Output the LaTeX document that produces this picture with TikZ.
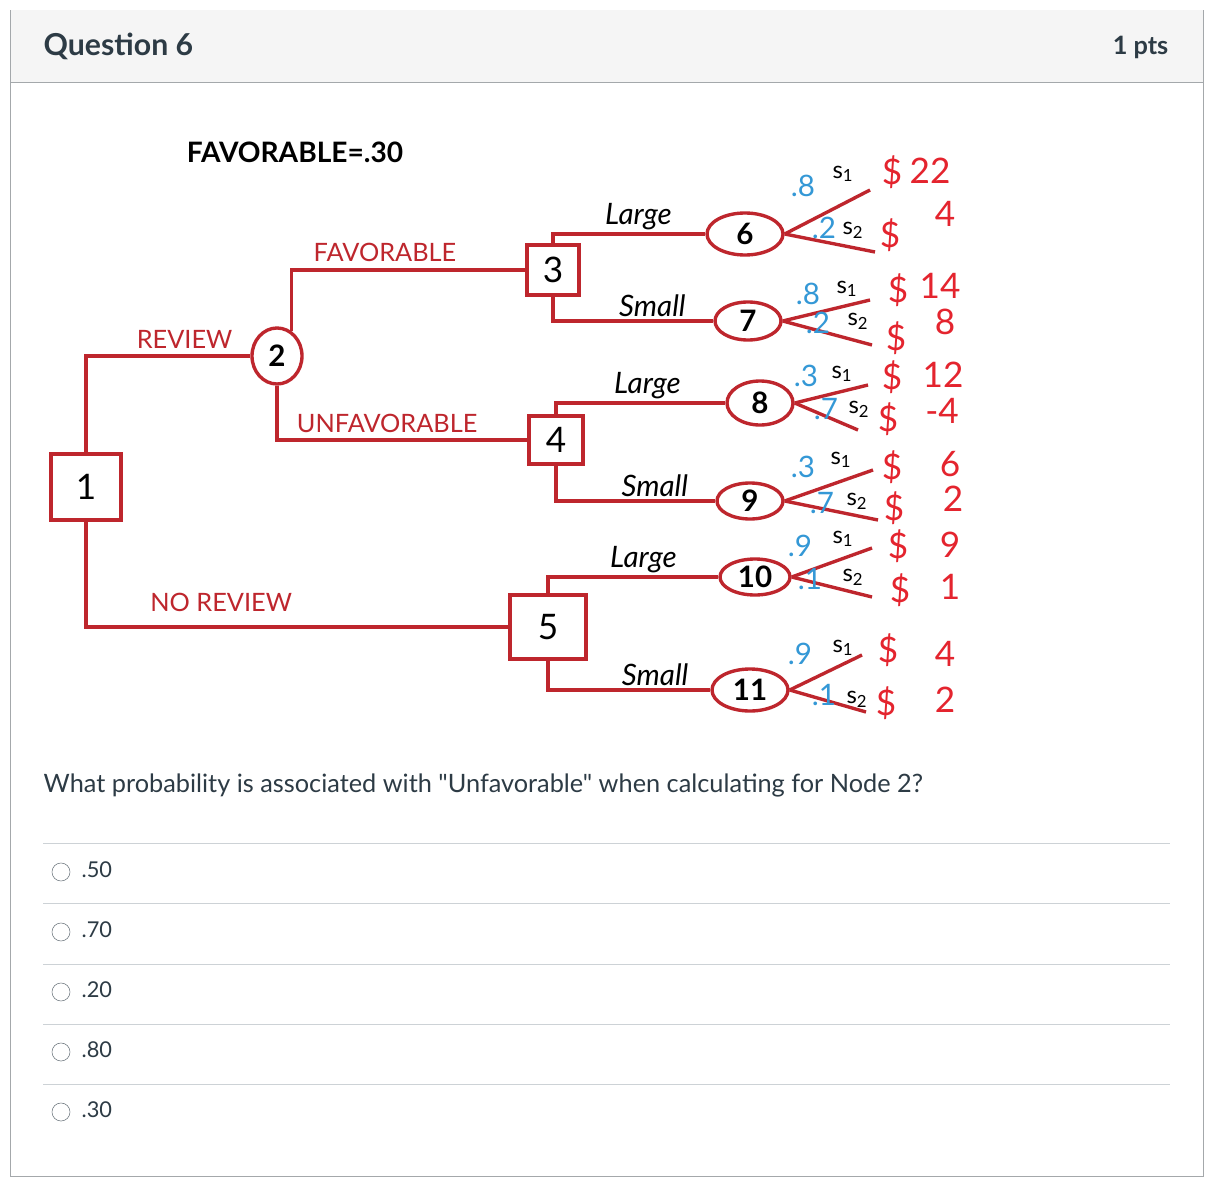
\documentclass[tikz,border=0pt]{standalone}
\usepackage{fontspec}
\setmainfont{Lato}
\newfontfamily\textoreto{Lato}
\usetikzlibrary{positioning, shapes.geometric}
\usepackage{xcolor}
\definecolor{ramo}{RGB}{190,38,45}
\definecolor{payoff}{RGB}{228,36,46}
\definecolor{prob}{RGB}{52,152,214}
\definecolor{texto}{RGB}{45,59,69}
\definecolor{linha}{RGB}{205,210,214}
\definecolor{cabec}{RGB}{245,245,245}

\begin{document}
\begin{tikzpicture}[
    x=0.025cm,
    y=-0.025cm,
    every node/.style={font=\fontsize{15.5}{18}\selectfont, inner sep=1pt},
    ramo/.style={
        draw=ramo,
        line width=2.4pt
    },
    decisao/.style={
        draw=ramo,
        line width=2.4pt,
        fill=white,
        font=\fontsize{25}{27}\selectfont
    },
    acaso/.style={
        ellipse,
        draw=ramo,
        line width=2.4pt,
        fill=white,
        inner sep=0pt,
        font=\fontsize{21}{23}\selectfont\bfseries
    },
    rotulo/.style={
        text=ramo,
        font=\fontsize{18}{20}\selectfont
    },
    tamanho/.style={
        font=\fontsize{21}{23}\selectfont\itshape
    },
    prob/.style={
        text=prob,
        font=\fontsize{21}{23}\selectfont
    },
    estado/.style={
        font=\fontsize{17}{19}\selectfont
    },
    valor/.style={
        text=payoff,
        font=\fontsize{25}{27}\selectfont
    }
]

\useasboundingbox (0,0) rectangle (1215,1188);

% ============================================================
% CABEÇALHO
% ============================================================

\draw[linha!80!black, fill=white] (10,10) rectangle (1203,1176);
\fill[cabec] (10.5,10.5) rectangle (1202.5,82);
\draw[linha!80!black] (10,82) -- (1203,82);

\node[
    anchor=west,
    text=texto,
    font=\fontsize{21.5}{25}\selectfont\bfseries
] (titulo) at (42,46)
{Question 6};

\node[
    anchor=east,
    text=texto,
    font=\fontsize{18}{21}\selectfont\bfseries
] (pontos) at (1170,47)
{1 pts};

% ============================================================
% ÁRVORE DE DECISÃO
% ============================================================

\node[
    font=\fontsize{20}{22}\selectfont\bfseries
] (prior) at (295,152)
{FAVORABLE=.30};

% Nós de decisão
\node[decisao, minimum width=1.75cm, minimum height=1.65cm] (n1) at (86,487) {1};
\node[decisao, minimum width=1.3cm, minimum height=1.25cm] (n3) at (553,270) {3};
\node[decisao, minimum width=1.35cm, minimum height=1.2cm] (n4) at (556,440) {4};
\node[decisao, minimum width=1.9cm, minimum height=1.6cm] (n5) at (548,627) {5};

% Nós de acaso
\node[acaso, minimum width=1.25cm, minimum height=1.4cm] (n2) at (277,356) {2};
\node[acaso, minimum width=1.9cm, minimum height=1.05cm] (n6) at (745,234) {6};
\node[acaso, minimum width=1.65cm, minimum height=0.95cm] (n7) at (748,321) {7};
\node[acaso, minimum width=1.65cm, minimum height=1.1cm] (n8) at (760,403) {8};
\node[acaso, minimum width=1.65cm, minimum height=0.9cm] (n9) at (750,501) {9};
\node[acaso, minimum width=1.75cm, minimum height=0.9cm] (n10) at (755,577) {10};
\node[acaso, minimum width=1.9cm, minimum height=1.05cm] (n11) at (750,690) {11};

% Ramos principais
\draw[ramo] (n1.north) |- node[rotulo, pos=0.80, above=3pt] {REVIEW} (n2.west);
\draw[ramo] (n1.south) |- node[rotulo, pos=0.66, above=9pt] {NO REVIEW} (n5.west);
\draw[ramo] (n2.60) |- node[rotulo, pos=0.70, above=4pt] {FAVORABLE} (n3.west);
\draw[ramo] (n2.south) |- node[rotulo, pos=0.72, above=3pt] {UNFAVORABLE} (n4.west);

% Tamanho da instalação
\draw[ramo] (n3.north) |- node[tamanho, pos=0.78, above=1pt] {Large} (n6.west);
\draw[ramo] (n3.south) |- node[tamanho, pos=0.81, above=1pt] {Small} (n7.west);
\draw[ramo] (n4.north) |- node[tamanho, pos=0.77, above=1pt] {Large} (n8.west);
\draw[ramo] (n4.south) |- node[tamanho, pos=0.81, above=1pt] {Small} (n9.west);
\draw[ramo] (n5.north) |- node[tamanho, pos=0.78, above=1pt] {Large} (n10.west);
\draw[ramo] (n5.south) |- node[tamanho, pos=0.83, above=1pt] {Small} (n11.west);

% Estados da natureza
\coordinate (e6a) at (870,190);
\coordinate (e6b) at (875,252);
\coordinate (e7a) at (870,300);
\coordinate (e7b) at (872,345);
\coordinate (e8a) at (868,385);
\coordinate (e8b) at (858,430);
\coordinate (e9a) at (873,470);
\coordinate (e9b) at (878,520);
\coordinate (e10a) at (872,548);
\coordinate (e10b) at (872,597);
\coordinate (e11a) at (862,655);
\coordinate (e11b) at (866,712);

\draw[ramo] (n6.east) -- (e6a);
\draw[ramo] (n6.east) -- (e6b);
\draw[ramo] (n7.east) -- (e7a);
\draw[ramo] (n7.east) -- (e7b);
\draw[ramo] (n8.east) -- (e8a);
\draw[ramo] (n8.east) -- (e8b);
\draw[ramo] (n9.east) -- (e9a);
\draw[ramo] (n9.east) -- (e9b);
\draw[ramo] (n10.east) -- (e10a);
\draw[ramo] (n10.east) -- (e10b);
\draw[ramo] (n11.east) -- (e11a);
\draw[ramo] (n11.east) -- (e11b);

% Probabilidades
\node[prob] (p6a) at (803,186) {.8};
\node[prob] (p6b) at (824,228) {.2};
\node[prob] (p7a) at (808,294) {.8};
\node[prob] (p7b) at (818,323) {.2};
\node[prob] (p8a) at (806,376) {.3};
\node[prob] (p8b) at (826,409) {.7};
\node[prob] (p9a) at (803,467) {.3};
\node[prob] (p9b) at (822,503) {.7};
\node[prob] (p10a) at (800,546) {.9};
\node[prob] (p10b) at (810,579) {.1};
\node[prob] (p11a) at (800,654) {.9};
\node[prob] (p11b) at (824,695) {.1};

\node[estado] (s6a) at (843,174) {s\textsubscript{1}};
\node[estado] (s6b) at (853,230) {s\textsubscript{2}};
\node[estado] (s7a) at (847,289) {s\textsubscript{1}};
\node[estado] (s7b) at (858,321) {s\textsubscript{2}};
\node[estado] (s8a) at (842,374) {s\textsubscript{1}};
\node[estado] (s8b) at (859,409) {s\textsubscript{2}};
\node[estado] (s9a) at (841,460) {s\textsubscript{1}};
\node[estado] (s9b) at (857,501) {s\textsubscript{2}};
\node[estado] (s10a) at (843,539) {s\textsubscript{1}};
\node[estado] (s10b) at (853,577) {s\textsubscript{2}};
\node[estado] (s11a) at (843,648) {s\textsubscript{1}};
\node[estado] (s11b) at (857,699) {s\textsubscript{2}};

% Resultados
\node[valor] (d6a) at (892,172) {\$};
\node[valor] (v6a) at (930,171) {22};
\node[valor] (d6b) at (890,235) {\$};
\node[valor] (v6b) at (945,214) {4};
\node[valor] (d7a) at (898,290) {\$};
\node[valor] (v7a) at (940,286) {14};
\node[valor] (d7b) at (896,338) {\$};
\node[valor] (v7b) at (945,322) {8};
\node[valor] (d8a) at (892,377) {\$};
\node[valor] (v8a) at (943,375) {12};
\node[valor] (d8b) at (888,419) {\$};
\node[valor] (v8b) at (942,411) {-4};
\node[valor] (d9a) at (892,467) {\$};
\node[valor] (v9a) at (950,464) {6};
\node[valor] (d9b) at (894,508) {\$};
\node[valor] (v9b) at (953,499) {2};
\node[valor] (d10a) at (898,546) {\$};
\node[valor] (v10a) at (950,545) {9};
\node[valor] (d10b) at (900,590) {\$};
\node[valor] (v10b) at (950,587) {1};
\node[valor] (d11a) at (888,650) {\$};
\node[valor] (v11a) at (945,654) {4};
\node[valor] (d11b) at (886,703) {\$};
\node[valor] (v11b) at (945,700) {2};

% ============================================================
% PERGUNTA E ALTERNATIVAS
% ============================================================

\node[
    anchor=west,
    text=texto,
    font=\fontsize{18}{21}\selectfont\textoreto
] (pergunta) at (42,785)
{What probability is associated with "Unfavorable" when calculating for Node 2?};

\draw[linha] (43,843) -- (1170,843);
\draw[linha] (43,903) -- (1170,903);
\draw[linha] (43,964) -- (1170,964);
\draw[linha] (43,1024) -- (1170,1024);
\draw[linha] (43,1084) -- (1170,1084);

\node[draw=texto!70, circle, minimum size=0.45cm, inner sep=0pt] (r1) at (61,872) {};
\node[draw=texto!70, circle, minimum size=0.45cm, inner sep=0pt] (r2) at (61,932) {};
\node[draw=texto!70, circle, minimum size=0.45cm, inner sep=0pt] (r3) at (61,992) {};
\node[draw=texto!70, circle, minimum size=0.45cm, inner sep=0pt] (r4) at (61,1052) {};
\node[draw=texto!70, circle, minimum size=0.45cm, inner sep=0pt] (r5) at (61,1112) {};

\node[anchor=west, text=texto] (a1) at (80,870) {.50};
\node[anchor=west, text=texto] (a2) at (80,930) {.70};
\node[anchor=west, text=texto] (a3) at (80,990) {.20};
\node[anchor=west, text=texto] (a4) at (80,1050) {.80};
\node[anchor=west, text=texto] (a5) at (80,1110) {.30};

\end{tikzpicture}
\end{document}
